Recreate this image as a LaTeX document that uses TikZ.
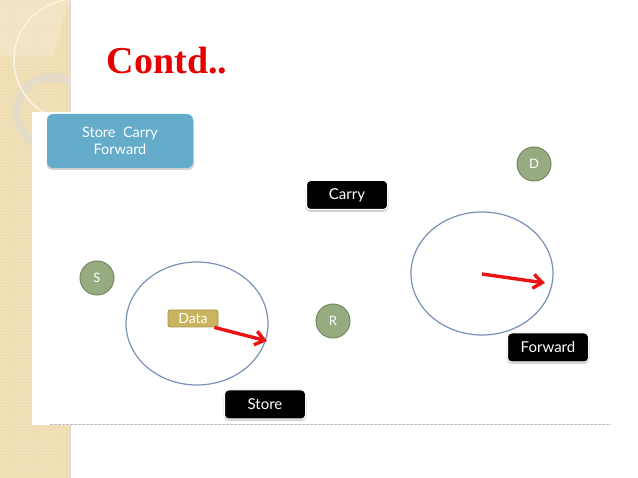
\documentclass[tikz,border=0pt]{standalone}
\usepackage{fontspec}
\setmainfont{Lato}
\newfontfamily\titlefont{Liberation Serif}
\usetikzlibrary{shapes.geometric,arrows.meta,patterns}
\definecolor{tan}{HTML}{EFDCB0}
\definecolor{tanlight}{HTML}{F2E3C2}
\definecolor{tandot}{HTML}{F6EBD2}
\definecolor{ringc}{HTML}{E4DCC6}
\definecolor{rimc}{HTML}{F8F2DE}
\definecolor{bluebox}{HTML}{65ABCA}
\definecolor{greenc}{HTML}{97AB80}
\definecolor{greenline}{HTML}{74895F}
\definecolor{goldc}{HTML}{C9B35F}
\definecolor{ellc}{HTML}{7A90B8}
\definecolor{redc}{HTML}{EA1414}
\definecolor{titlered}{HTML}{E60000}
\tikzset{
 x=1pt,y=-1pt,
 blackbox/.style={draw=white,line width=1pt,fill=black,rounded corners=4pt,minimum width=81pt,minimum height=29pt,text=white,font=\fontsize{15}{17}\selectfont,inner sep=0pt},
 peer/.style={circle,draw=greenline,line width=1pt,fill=greenc,minimum size=34pt,inner sep=0pt,text=white,font=\fontsize{13}{15}\selectfont},
 rangeell/.style={ellipse,draw=ellc,line width=1.2pt,minimum width=142pt,minimum height=123pt,inner sep=0pt},
 moveline/.style={draw=redc,line width=3.4pt,-{Straight Barb[length=9pt,width=14pt,line width=3.4pt]}},
 rim/.style={fill=lightgray!70,rounded corners=5pt,draw=none}
}
\begin{document}
\begin{tikzpicture}
\useasboundingbox (0,0) rectangle (638,478);
\fill[white] (0,0) rectangle (638,478);
\begin{scope}
 \clip (0,0) rectangle (70,478);
 \fill[tan] (0,0) rectangle (70,478);
 \fill[tanlight] (0,0) rectangle (54,56);
 \fill[tanlight] (54,0) -- (70,0) -- (70,2) .. controls (62,20) and (58,40) .. (54,56) -- cycle;
 \fill[pattern=crosshatch dots,pattern color=tandot] (0,0) rectangle (70,478);
 \draw[ringc,line width=9pt] (52,112) circle[radius=35];
 \draw[rimc,line width=1.6pt] (75,60) circle[radius=61];
\end{scope}
\fill[white!70!tan!90!black] (70,0) rectangle (71,478);
\fill[white] (32,112) rectangle (71,425);
\draw[lightgray,line width=.7pt,dash pattern=on 2.5pt off 1.5pt] (50,424) -- (611,424);
\node[font=\titlefont\bfseries\fontsize{38}{42}\selectfont,text=titlered,anchor=center] (title) at (167,61) {Contd..};
\fill[rim] (47,117) rectangle (194,170);
\node[draw=none,fill=bluebox,rounded corners=6pt,minimum width=146pt,minimum height=54pt,text=white,align=center,inner sep=0pt,font=\fontsize{14.5}{18.5}\selectfont] (scf) at (120,141) {\raisebox{-1.5pt}{Store\ \ Carry}\\[-1pt]\raisebox{-1.5pt}{Forward}};
\node[rangeell] (e1) at (197,323.5) {};
\node[rangeell] (e2) at (482,273.5) {};
\coordinate (a1) at (267,341);
\coordinate (a2s) at (482,274);
\coordinate (a2) at (545,283);
\foreach \cx/\cy in {347/197,265/406,548/349}{\fill[rim] (\cx-41.5,\cy-13) rectangle (\cx+41.5,\cy+15);}
\node[blackbox] (carry) at (347,195) {\raisebox{-1pt}{Carry}};
\node[blackbox] (store) at (265,404.5) {\raisebox{-1pt}{Store}};
\node[blackbox] (forward) at (548,347.5) {\raisebox{-1pt}{Forward}};
\node[peer] (s) at (97,278) {S};
\node[peer] (d) at (534,164) {D};
\node[peer] (r) at (333,321) {R};
\node[draw=goldc!85!black,line width=.8pt,fill=goldc,rounded corners=2pt,minimum width=50pt,minimum height=17pt,text=white,inner sep=0pt,font=\fontsize{14}{15}\selectfont] (data) at (193,318.5) {Data};
\draw[moveline] (data.south east) ++(-4,0) -- (a1);
\draw[moveline] (a2s) -- (a2);
\end{tikzpicture}
\end{document}
